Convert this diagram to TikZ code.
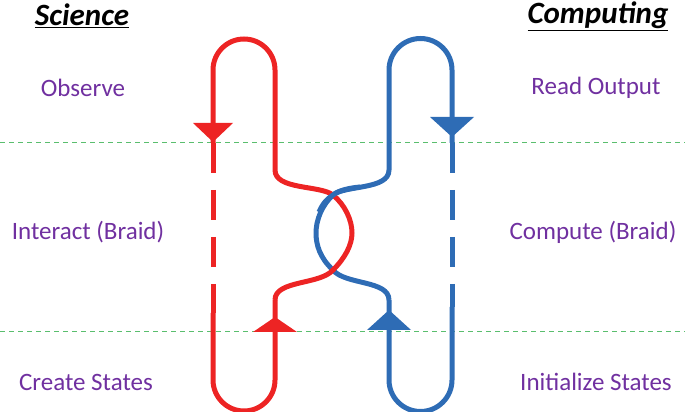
\documentclass[tikz,border=0pt]{standalone}
\usepackage{fontspec}
\setmainfont{Carlito}
\definecolor{rd}{RGB}{237,36,36}
\definecolor{bl}{RGB}{46,108,181}
\definecolor{pu}{RGB}{112,48,160}
\definecolor{gr}{RGB}{90,190,110}
\begin{document}
\begin{tikzpicture}[x=1pt,y=1pt,
 lbl/.style={text=pu,font=\fontsize{25}{29}\selectfont},
 ttl/.style={font=\fontsize{31}{36}\selectfont\bfseries\itshape},
 strand/.style={line width=5pt},
 dsh/.style={line width=5pt,dash pattern=on 30pt off 17pt},
 grid/.style={gr,line width=1pt,dash pattern=on 5pt off 4pt}]
\useasboundingbox (0,0) rectangle (685,412);
\draw[grid] (0,269) -- (685,269);
\draw[grid] (0,80) -- (685,80);
\node[ttl] (sci) at (82,396) {\underline{Science}};
\node[ttl] (comp) at (598,396) {\underline{Computing}};
\node[lbl] (obs) at (83,324) {Observe};
\node[lbl] (int) at (88,180) {Interact (Braid)};
\node[lbl] (cre) at (86,30) {Create States};
\node[lbl] (rea) at (596,324) {Read Output};
\node[lbl] (cmp) at (593,180) {Compute (Braid)};
\node[lbl] (ini) at (596,30) {Initialize States};
% blue strand
\draw[strand,bl] (389,112) .. controls (389,132) and (345,127) .. (333,142)
  .. controls (320,154) and (316,167) .. (316,179)
  .. controls (316,192) and (322,207) .. (333,217)
  .. controls (345,227) and (389,222) .. (389,242) -- (389,342)
  arc[start angle=180,end angle=0,radius=31.5] -- (452,269);
\draw[dsh,bl] (452,269) -- (452,105);
\draw[strand,bl] (452,105) -- (452,32) arc[start angle=0,end angle=-180,radius=31.5] -- (389,112);
% red strand
\draw[strand,rd] (275,112) .. controls (275,132) and (320,127) .. (333,142)
  .. controls (345,154) and (352,167) .. (352,179)
  .. controls (352,192) and (345,207) .. (333,217)
  .. controls (320,227) and (275,222) .. (275,242) -- (275,342)
  arc[start angle=0,end angle=180,radius=31] -- (213,269);
\draw[dsh,rd] (213,269) -- (213,99);
\draw[strand,rd] (213,99) -- (213,32) arc[start angle=180,end angle=360,radius=31] -- (275,112);
% blue over red at the upper crossing
\draw[strand,bl] (319,200) .. controls (323,209) and (327,213) .. (333,217)
  .. controls (339,222) and (350,224) .. (360,225);
% arrowheads
\fill[rd] (213,270) -- (193,289) -- (233,289) -- cycle;
\fill[rd] (275,95) -- (253,80) -- (297,80) -- cycle;
\fill[bl] (452,275) -- (430,295) -- (474,295) -- cycle;
\fill[bl] (389,102) -- (367,82) -- (411,82) -- cycle;
\end{tikzpicture}
\end{document}
